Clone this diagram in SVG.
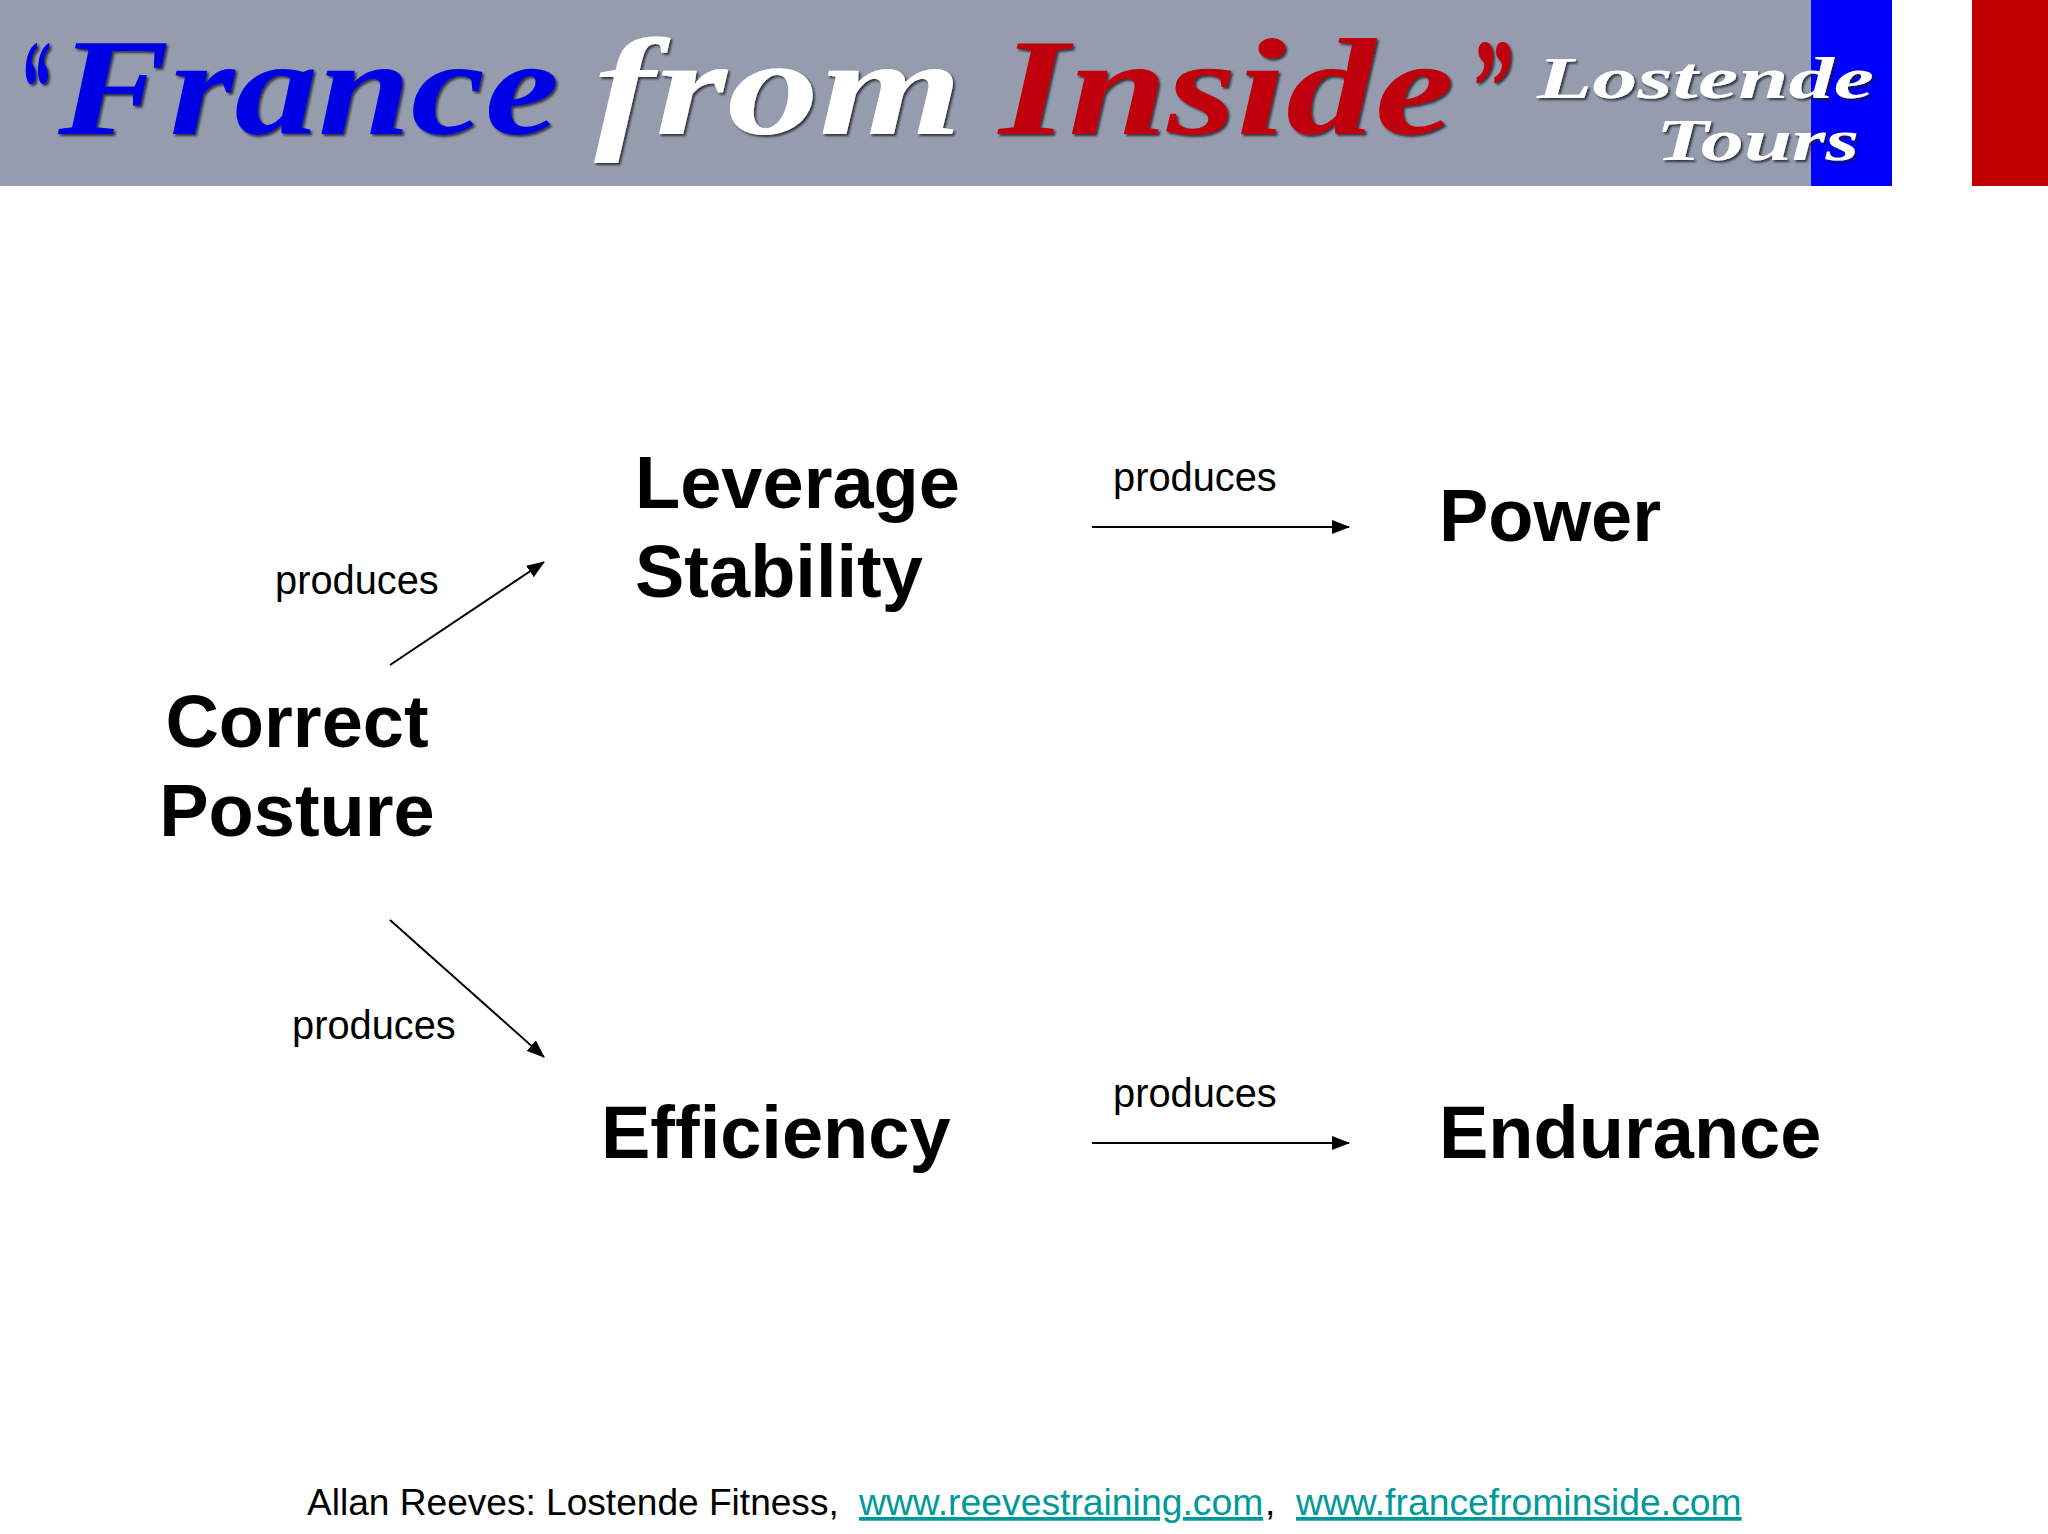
<svg xmlns="http://www.w3.org/2000/svg" width="2048" height="1534" viewBox="0 0 2048 1534">
<style>
.n{font:bold 74px "Liberation Sans",Arial,sans-serif;fill:#000}
.l{font:39.8px "Liberation Sans",Arial,sans-serif;fill:#000}
.f{font:37.3px "Liberation Sans",Arial,sans-serif;fill:#000}
.u{fill:#009999;text-decoration:underline}
.b{font-family:"Liberation Serif","Times New Roman",serif;font-weight:bold;font-style:italic;filter:url(#sh)}
.c{stroke:#000;stroke-width:2;fill:none;marker-end:url(#a)}
</style>
<defs>
<marker id="a" markerUnits="userSpaceOnUse" markerWidth="18" markerHeight="14" refX="17" refY="7" orient="auto"><path d="M0 0L18 7L0 14Z" fill="#000"/></marker>
<filter id="sh" x="-5%" y="-10%" width="110%" height="125%"><feDropShadow dx="2" dy="2" stdDeviation="1" flood-color="#1a1a22" flood-opacity=".8"/></filter>
</defs>
<rect width="2048" height="1534" fill="#fff"/>
<g id="banner">
<rect width="1811" height="186" fill="#949cae"/>
<rect x="1811" width="81" height="186" fill="#0000ff"/>
<rect x="1972" width="76" height="186" fill="#c00000"/>
<text class="b" y="134" font-size="138" fill="#0505e5"><tspan x="20" textLength="30" lengthAdjust="spacingAndGlyphs">“</tspan><tspan x="58" textLength="501" lengthAdjust="spacingAndGlyphs">France</tspan></text>
<text class="b" x="594" y="134" font-size="138" textLength="368" lengthAdjust="spacingAndGlyphs" fill="#ffffff">from</text>
<text class="b" y="134" font-size="138" fill="#c00008"><tspan x="999" textLength="455" lengthAdjust="spacingAndGlyphs">Inside</tspan><tspan x="1469" textLength="43" lengthAdjust="spacingAndGlyphs">”</tspan></text>
<text class="b" x="1537" y="98" font-size="60" textLength="337" lengthAdjust="spacingAndGlyphs" fill="#ffffff">Lostende</text>
<text class="b" x="1656" y="160" font-size="60" textLength="203" lengthAdjust="spacingAndGlyphs" fill="#ffffff">Tours</text>
</g>
<g id="connectors">
<line class="c" x1="390" y1="665" x2="544" y2="562"/>
<line class="c" x1="390" y1="920" x2="544" y2="1057"/>
<line class="c" x1="1092" y1="527" x2="1349" y2="527"/>
<line class="c" x1="1092" y1="1143" x2="1349" y2="1143"/>
</g>
<g id="labels">
<text class="l" x="275" y="594">produces</text>
<text class="l" x="292" y="1039">produces</text>
<text class="l" x="1113" y="491">produces</text>
<text class="l" x="1113" y="1107">produces</text>
</g>
<g id="node-correct-posture">
<text class="n" x="297" y="747" text-anchor="middle">Correct</text>
<text class="n" x="297" y="836" text-anchor="middle">Posture</text>
</g>
<g id="node-leverage-stability">
<text class="n" x="635" y="508">Leverage</text>
<text class="n" x="635" y="597">Stability</text>
</g>
<g id="node-power"><text class="n" x="1439" y="541">Power</text></g>
<g id="node-efficiency"><text class="n" x="601" y="1158">Efficiency</text></g>
<g id="node-endurance"><text class="n" x="1439" y="1158">Endurance</text></g>
<g id="footer">
<text class="f" y="1515"><tspan x="307" font-size="37.1">Allan Reeves: Lostende Fitness,</tspan><tspan x="859" class="u">www.reevestraining.com</tspan><tspan x="1265">,</tspan><tspan x="1296" class="u">www.francefrominside.com</tspan></text>
</g>
</svg>
